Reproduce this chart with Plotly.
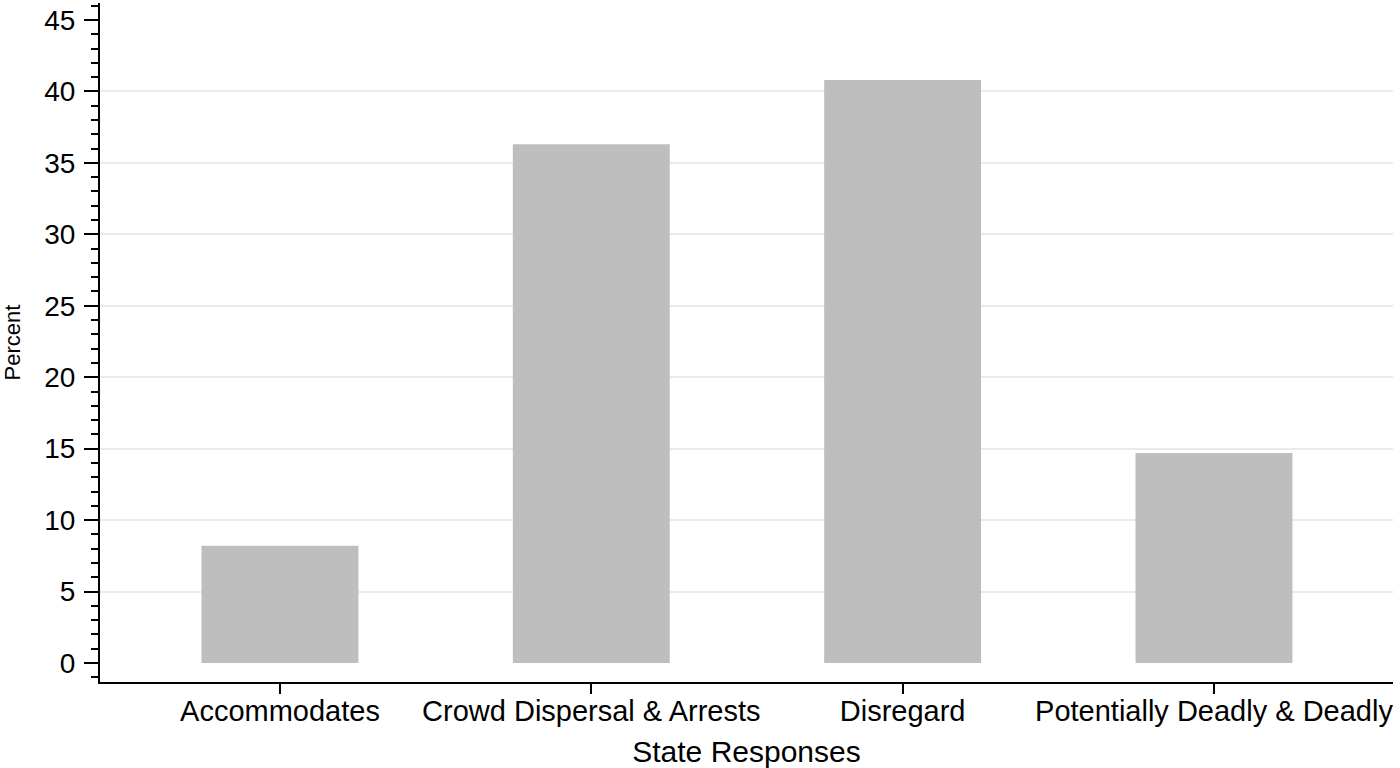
import plotly.graph_objects as go

categories = ["Accommodates", "Crowd Dispersal & Arrests", "Disregard",
              "Potentially Deadly & Deadly"]
percent = [8.2, 36.3, 40.8, 14.7]
y_ticks = [0, 5, 10, 15, 20, 25, 30, 35, 40, 45]
grid_vals = [5, 10, 15, 20, 25, 30, 35, 40]

font = "Liberation Sans, Arial, sans-serif"
yrange = [-1.33, 46.19]

fig = go.Figure()
fig.add_trace(go.Bar(x=categories, y=percent, width=0.504,
                     marker=dict(color="rgb(190,190,190)", line=dict(width=0)),
                     showlegend=False))

fig.update_layout(
    width=1400, height=768,
    margin=dict(l=100, r=7, t=3, b=86),
    paper_bgcolor="white", plot_bgcolor="white",
    font=dict(family=font, size=28, color="black"),
    bargap=0.5,
    xaxis=dict(
        range=[-0.578, 3.575], automargin=False,
        showline=True, linecolor="black", linewidth=2,
        ticks="outside", ticklen=10, tickwidth=2, tickcolor="black",
        showgrid=False, zeroline=False,
        tickfont=dict(family=font, size=29),
        ticklabelstandoff=-8,
        title=dict(text="State Responses", font=dict(family=font, size=30), standoff=18),
    ),
    yaxis=dict(
        range=yrange, automargin=False,
        tickvals=y_ticks,
        showline=True, linecolor="black", linewidth=2,
        ticks="outside", ticklen=14, tickwidth=2, tickcolor="black",
        minor=dict(dtick=1, tick0=0, ticks="outside", ticklen=7, tickwidth=2,
                   tickcolor="black", showgrid=False),
        showgrid=False, zeroline=False,
        tickfont=dict(family=font, size=28),
        ticklabelstandoff=3,
        title=dict(text="Percent", font=dict(family=font, size=22), standoff=40),
    ),
    yaxis2=dict(
        range=yrange, overlaying="y", side="left", automargin=False,
        tickvals=grid_vals, showticklabels=False, ticks="",
        showgrid=True, gridcolor="rgb(234,234,234)", gridwidth=2,
        showline=False, zeroline=False,
    ),
)
fig.add_trace(go.Scatter(x=[categories[0]], y=[None], yaxis="y2",
                         showlegend=False, hoverinfo="skip"))

fig.write_html("out.html", config={"displayModeBar": False},
               post_script="document.body.style.margin='0';")
